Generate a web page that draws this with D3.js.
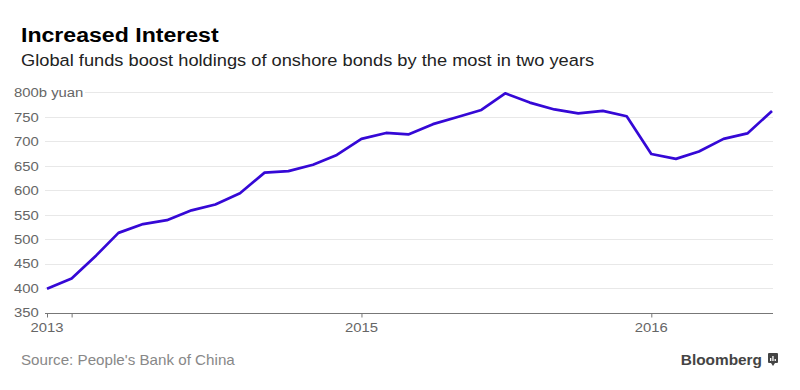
<!DOCTYPE html>
<html><head><meta charset="utf-8">
<script src="https://cdn.jsdelivr.net/npm/d3@7"></script>
<style>body{margin:0;background:#fff}svg{display:block}</style>
</head><body>
<script>
// ---- data ----
const months = ["2013-12","2014-01","2014-02","2014-03","2014-04","2014-05","2014-06","2014-07","2014-08","2014-09","2014-10","2014-11","2014-12",
  "2015-01","2015-02","2015-03","2015-04","2015-05","2015-06","2015-07","2015-08","2015-09","2015-10","2015-11","2015-12",
  "2016-01","2016-02","2016-03","2016-04","2016-05","2016-06"];
const holdings = [399,420,467,513,531,539,559,571,594,636,639,652,672,705,717,714,735,749,764,798,779,765,757,762,751,674,664,679,705,716,762];
const yTicks = [350,400,450,500,550,600,650,700,750,800];
const yTickLabels = ["350","400","450","500","550","600","650","700","750","800b yuan"];
const xTickDates = ["2013-12","2014-01","2015-01","2016-01"];
const xTickLabels = ["2013","","2015","2016"];
const title = "Increased Interest";
const subtitle = "Global funds boost holdings of onshore bonds by the most in two years";
const source = "Source: People's Bank of China";

const W = 800, H = 390, SX = 1.1;
const FONT = "'Liberation Sans', Arial, Helvetica, sans-serif";
const parse = d3.timeParse("%Y-%m");
const data = months.map((m,i)=>({date: parse(m), value: holdings[i]}));

const svg = d3.select("body").append("svg").attr("width", W).attr("height", H);

function txt(x, y, s, o) {
  o = o || {};
  return svg.append("text")
    .attr("transform", `translate(${x},${y}) scale(${SX},1)`)
    .attr("font-family", FONT)
    .attr("font-size", o.size || 14)
    .attr("font-weight", o.weight || "normal")
    .attr("fill", o.fill || "#000")
    .attr("text-anchor", o.anchor || "start")
    .attr("dominant-baseline", o.baseline || "alphabetic")
    .text(s);
}

const x = d3.scaleTime().domain(d3.extent(data, d=>d.date)).range([47, 772]);
const y = d3.scaleLinear().domain([350, 800]).range([312.7, 92.3]);

// titles
txt(21, 42, title, {size: 21, weight: "bold", fill: "#000"});
txt(21, 66, subtitle, {size: 16.6, fill: "#222"});

// gridlines
yTicks.forEach((t, i) => {
  if (t === 350) return;
  svg.append("line")
    .attr("x1", i === yTicks.length - 1 ? 85 : 45).attr("x2", 773)
    .attr("y1", Math.round(y(t)) + 0.5).attr("y2", Math.round(y(t)) + 0.5)
    .attr("stroke", "#e8e8e8").attr("stroke-width", 1);
});
// y labels
yTicks.forEach((t, i) => {
  txt(14, y(t), yTickLabels[i], {size: 13.5, fill: "#666", baseline: "central"});
});

// x axis
const xAxis = d3.axisBottom(x)
  .tickValues(xTickDates.map(parse))
  .tickSize(4)
  .tickFormat("");
const gx = svg.append("g").attr("transform", `translate(0,${Math.round(y(350)) + 0.5})`).call(xAxis);
gx.select(".domain").attr("d", "M45,0H773").attr("stroke", "#777");
gx.selectAll(".tick line").attr("stroke", "#777");
xTickDates.forEach((d, i) => {
  if (xTickLabels[i]) txt(x(parse(d)), 332, xTickLabels[i], {size: 13.5, fill: "#666", anchor: "middle"});
});

// line
svg.append("path").datum(data)
  .attr("fill", "none")
  .attr("stroke", "#3508d6")
  .attr("stroke-width", 2.7)
  .attr("stroke-linejoin", "round")
  .attr("d", d3.line().x(d => x(d.date)).y(d => y(d.value)));

// footer
txt(21, 365, source, {size: 13.8, fill: "#888"});
txt(762, 365, "Bloomberg", {size: 14, weight: "bold", fill: "#444", anchor: "end"});
// logo icon
const ic = svg.append("g").attr("transform", "translate(768,353)");
ic.append("rect").attr("width", 10).attr("height", 10).attr("rx", 1).attr("fill", "#444");
ic.append("path").attr("d", "M3,10 L5,13 L7,10 Z").attr("fill", "#444");
[[2,5,1.3],[4.3,3,1.3],[6.6,6,1.3]].forEach(b => {
  ic.append("rect").attr("x", b[0]).attr("y", b[1]).attr("width", b[2]).attr("height", 8 - b[1]).attr("fill", "#fff");
});
</script>
</body></html>
